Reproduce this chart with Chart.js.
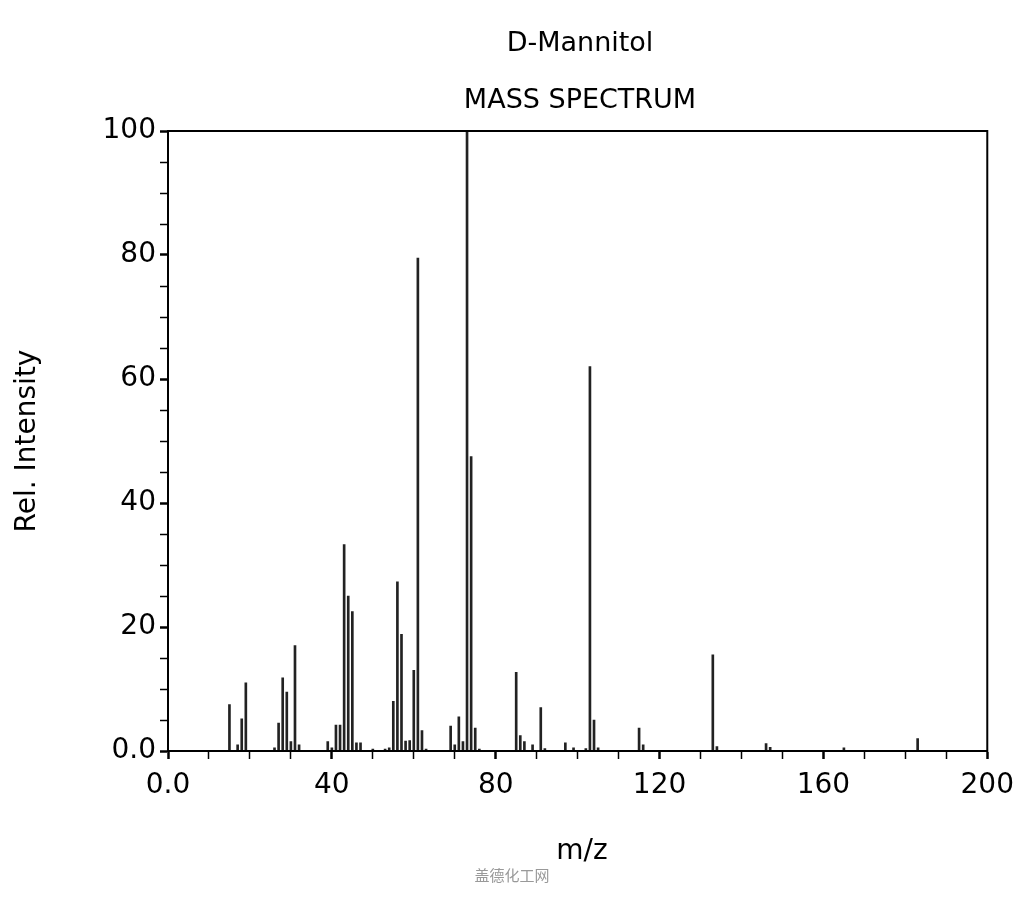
<!DOCTYPE html>
<html><head><meta charset="utf-8">
<script src="https://cdn.jsdelivr.net/npm/chart.js@4/dist/chart.umd.min.js"></script>
<style>html,body{margin:0;padding:0;background:#fff}#w{width:1024px;height:900px}</style>
</head><body><div id="w"><canvas id="c"></canvas></div>
<script>
const mz =        [15,17,18,19,26,27,28,29,30,31,32,39,40,41,42,43,44,45,46,47,50,53,54,55,56,57,58,59,60,61,62,63,69,70,71,72,73,74,75,76,85,86,87,89,91,92,97,99,102,103,104,105,115,116,133,134,146,147,165,183];
const intensity = [7.5,1,5.2,11,0.5,4.5,11.8,9.5,1.5,17,1,1.5,0.5,4.2,4.2,33.3,25,22.5,1.3,1.3,0.3,0.3,0.5,8,27.3,18.8,1.6,1.7,13,79.5,3.3,0.3,4,1,5.5,1.5,100,47.5,3.7,0.3,12.7,2.5,1.5,1,7,0.4,1.3,0.5,0.4,62,5,0.5,3.7,1,15.5,0.7,1.2,0.6,0.5,2];
const titleLines = ["D-Mannitol","MASS SPECTRUM"];
const xLabel = "m/z", yLabel = "Rel. Intensity";
const FONT = "'DejaVu Sans', sans-serif";

const deco = {
  id:'deco',
  afterDraw(ch){
    const {ctx, chartArea:a} = ch;
    ctx.save();
    ctx.strokeStyle='#000'; ctx.lineWidth=2;
    ctx.strokeRect(a.left,a.top,a.right-a.left,a.bottom-a.top);
    ctx.fillStyle='#000'; ctx.textAlign='center'; ctx.textBaseline='middle';
    ctx.font="27px "+FONT;
    ctx.fillText(titleLines[0],580,44);
    ctx.fillText(titleLines[1],580,101);
    ctx.font="28px "+FONT;
    ctx.fillText(xLabel,582,852);
    ctx.save(); ctx.translate(28,441); ctx.rotate(-Math.PI/2); ctx.fillText(yLabel,0,0); ctx.restore();
    ctx.font="15px 'Noto Sans CJK SC'"; ctx.fillStyle='#999';
    ctx.fillText("盖德化工网",512,875);
    ctx.restore();
  }
};

new Chart(document.getElementById('c'),{
  type:'bar',
  data:{datasets:[{data:mz.map((m,i)=>({x:m,y:intensity[i]})),backgroundColor:'#222',barThickness:2}]},
  options:{
    responsive:true,maintainAspectRatio:false,animation:false,
    layout:{padding:{top:131,right:26,left:0,bottom:0}},
    plugins:{legend:{display:false},tooltip:{enabled:false}},
    scales:{
      x:{type:'linear',min:0,max:200,offset:false,
        border:{color:'#000',width:2},
        grid:{offset:false,drawOnChartArea:false,color:'#000',tickLength:8,tickWidth:c=>c.tick&&c.tick.value%40===0?2.5:1.5},
        ticks:{stepSize:10,autoSkip:false,maxRotation:0,color:'#000',font:{size:28,family:FONT},padding:10,
          callback:v=>v%40===0?(v===0?'0.0':String(v)):''},
        afterFit:s=>{s.height=149;}},
      y:{min:0,max:100,
        border:{color:'#000',width:2},
        grid:{drawOnChartArea:false,color:'#000',tickLength:8,tickWidth:c=>c.tick&&c.tick.value%20===0?2.5:1.5},
        ticks:{stepSize:5,autoSkip:false,color:'#000',font:{size:28,family:FONT},padding:4,
          callback:v=>v%20===0?(v===0?'0.0':String(v)):''},
        afterFit:s=>{s.width=168;}}
    }
  },
  plugins:[deco]
});
</script></body></html>
